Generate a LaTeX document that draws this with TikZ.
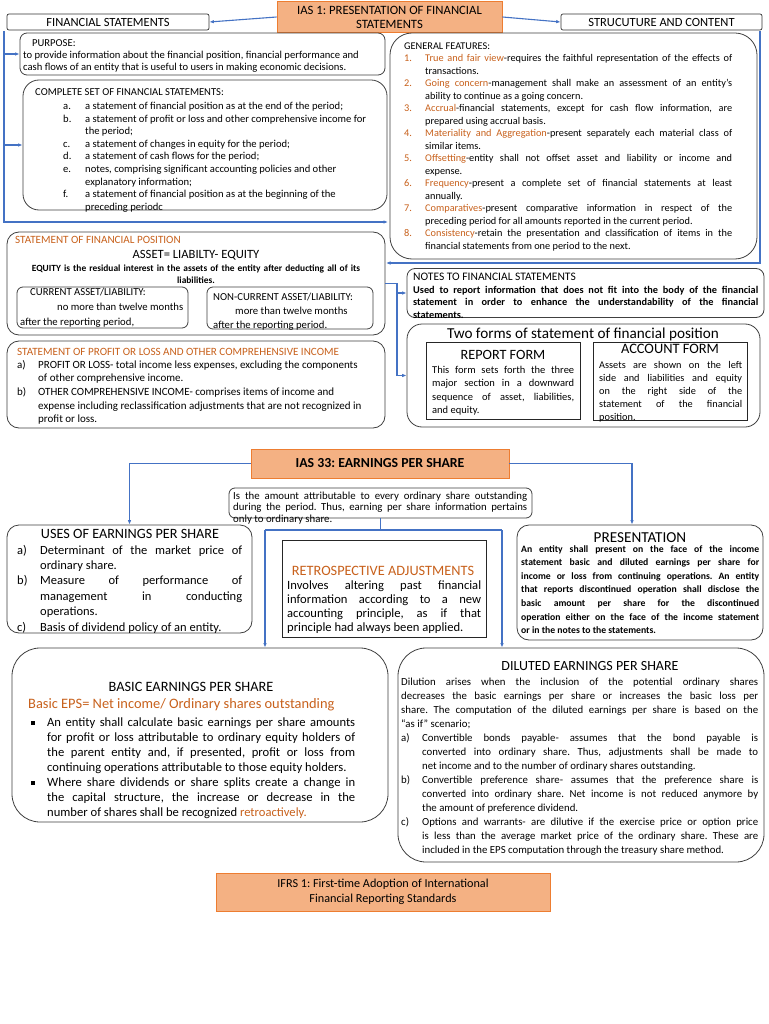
\documentclass[tikz,border=0pt]{standalone}
\usepackage{fontspec}
\setmainfont{Carlito}
\usepackage{xcolor}
\usetikzlibrary{arrows.meta}
\definecolor{hdrfill}{HTML}{F4B183}
\definecolor{hdrline}{HTML}{ED7D31}
\definecolor{ortxt}{HTML}{C8611C}
\definecolor{linkblue}{HTML}{4472C4}
\newcommand\fs[2]{\fontsize{#1}{#2}\selectfont}
\newcommand\ort[1]{\textcolor{ortxt}{#1}}
\newlength\lblw
\newcommand\hitem[2]{\noindent\hangindent=\lblw\hangafter=1\relax\makebox[\lblw][l]{#1}#2\endgraf}
\newcommand\gitem[3]{\hitem{\ort{#1}}{\ort{#2}#3}}
\newcommand\sqb{\rule[2pt]{4pt}{4pt}}
\hyphenpenalty=10000 \exhyphenpenalty=10000 \tolerance=10000
\AtBeginDocument{\frenchspacing}

\begin{document}
\begin{tikzpicture}[x=1pt,y=-1pt,>=Latex,
  rbox/.style={draw=black!75,line width=.8pt,rounded corners=#1,inner sep=0pt},
  rbox/.default=10pt,
  sqbox/.style={draw=black!85,line width=.8pt,inner sep=0pt},
  tagbox/.style={draw=black!80,line width=.7pt,rounded corners=2pt,inner sep=0pt,
                 minimum width=202pt,minimum height=16pt,font=\fs{12.5}{13}},
  hdr/.style={draw=hdrline,fill=hdrfill,line width=.8pt,align=center,inner sep=0pt},
  txt/.style={inner sep=0pt,anchor=base west,align=justify},
  lbl/.style={inner sep=0pt,anchor=base},
  flow/.style={draw=linkblue,line width=1.1pt},
  flowarr/.style={flow,-{Latex[length=4.5pt,width=3.5pt]}}
]
\fill[white] (0,0) rectangle (768,1024);
\useasboundingbox (0,0) rectangle (768,1024);

\node[hdr,minimum width=225pt,minimum height=31pt,font=\fs{12.7}{14}] (ias1) at (389.5,17)
  {IAS 1: PRESENTATION OF FINANCIAL\\STATEMENTS};
\node[tagbox] (fin) at (108,22) {FINANCIAL STATEMENTS};
\node[tagbox,minimum width=201pt] (struct) at (661.5,22) {STRUCUTURE AND CONTENT};
\draw[flowarr] (ias1.west) -- (fin.east);
\draw[flowarr] (ias1.east) -- (struct.west);

\node[rbox=7pt,minimum width=365pt,minimum height=42pt] (purp) at (202.5,54) {};
\node[txt,text width=362pt,font=\fs{10.6}{12}] (purpT) at (23,46.5)
  {\raggedright\hspace*{9pt}PURPOSE:\newline to provide information about the financial position, financial performance and\newline cash flows of an entity that is useful to users in making economic decisions.};

\node[rbox=16pt,minimum width=364pt,minimum height=130pt] (cset) at (205,145) {};
\node[txt,text width=345pt,font=\fs{10.6}{12.6}] (csetT) at (35,95.5)
  {\raggedright COMPLETE SET OF FINANCIAL STATEMENTS:\endgraf\vspace{1.5pt}
   \leftskip=28pt \setlength\lblw{22pt}%
   \hitem{a.}{a statement of financial position as at the end of the period;}
   \hitem{b.}{a statement of profit or loss and other comprehensive income for\newline the period;}
   \hitem{c.}{a statement of changes in equity for the period;}
   \hitem{d.}{a statement of cash flows for the period;}
   \hitem{e.}{notes, comprising significant accounting policies and other\newline explanatory information;}
   \hitem{f.}{a statement of financial position as at the beginning of the\newline preceding periodc}};

\node[rbox=22pt,minimum width=367pt,minimum height=226pt] (gen) at (573.5,146) {};
\node[txt,text width=328pt,font=\fs{10.3}{12.5}] (genT) at (404,49.5)
  {GENERAL FEATURES:\endgraf \setlength\lblw{21pt}%
   \gitem{1.}{True and fair view}{-requires the faithful representation of the effects of\linebreak transactions.}
   \gitem{2.}{Going concern}{-management shall make an assessment of an entity’s\linebreak ability to continue as a going concern.}
   \gitem{3.}{Accrual}{-financial statements, except for cash flow information, are\linebreak prepared using accrual basis.}
   \gitem{4.}{Materiality and Aggregation}{-present separately each material class of\linebreak similar items.}
   \gitem{5.}{Offsetting}{-entity shall not offset asset and liability or income and\linebreak expense.}
   \gitem{6.}{Frequency}{-present a complete set of financial statements at least\linebreak annually.}
   \gitem{7.}{Comparatives}{-present comparative information in respect of the\linebreak preceding period for all amounts reported in the current period.}
   \gitem{8.}{Consistency}{-retain the presentation and classification of items in the\linebreak financial statements from one period to the next.}};

\coordinate (lt) at (4,31);
\coordinate (gin) at (388,222);
\draw[flowarr] (lt) |- (gin);
\draw[flowarr] (lt |- purp.west) -- (purp.west);
\draw[flowarr] (lt |- cset.west) -- (cset.west);

\node[rbox=12pt,minimum width=378pt,minimum height=103pt] (sfp) at (196,283.5) {};
\node[lbl,anchor=base west,font=\fs{11.1}{12},text=ortxt] (sfpT) at (15,243.5) {STATEMENT OF FINANCIAL POSITION};
\node[lbl,font=\fs{12.6}{13}] (sfpEq) at (196,258.5) {ASSET= LIABILTY- EQUITY};
\node[lbl,text width=370pt,align=center,font=\bfseries\fs{9.4}{12}] (sfpDef) at (196,271.5)
  {EQUITY is the residual interest in the assets of the entity after deducting all of its\\liabilities.};
\node[rbox=6pt,minimum width=171pt,minimum height=41pt] (cur) at (102.5,307.5) {};
\node[txt,text width=168pt,font=\fs{10.7}{15}] (curT) at (20,295)
  {\raggedright\hspace*{10pt}CURRENT ASSET/LIABILITY:\newline\hspace*{37pt}no more than twelve months\newline after the reporting period,};
\node[rbox=6pt,minimum width=166pt,minimum height=42pt] (ncur) at (290,308) {};
\node[txt,text width=160pt,font=\fs{10.7}{14.3}] (ncurT) at (213,300)
  {\raggedright NON-CURRENT ASSET/LIABILITY:\newline\hspace*{22pt}more than twelve months\newline after the reporting period.};

\node[rbox=8pt,minimum width=357pt,minimum height=49pt] (notes) at (585.5,293) {};
\node[lbl,anchor=base west,font=\fs{11.5}{12}] (notesT) at (413,280) {NOTES TO FINANCIAL STATEMENTS};
\node[txt,text width=345pt,font=\bfseries\fs{10.3}{12.3}] (notesB) at (413,293.5)
  {Used to report information that does not fit into the body of the financial\linebreak statement in order to enhance the understandability of the financial\linebreak statements.};

\node[rbox=15pt,minimum width=353pt,minimum height=103pt] (forms) at (583.5,375.5) {};
\node[lbl,font=\fs{15.2}{16}] (formsT) at (583,338.5) {Two forms of statement of financial position};
\node[sqbox,minimum width=154pt,minimum height=77pt] (rep) at (503,380.5) {};
\node[lbl,font=\fs{14.2}{15}] (repT) at (503,359.5) {REPORT FORM};
\node[txt,text width=142pt,font=\fs{10.5}{13.5}] (repB) at (432,373)
  {This form sets forth the three\linebreak major section in a downward\linebreak sequence of asset, liabilities,\linebreak and equity.};
\node[sqbox,minimum width=154pt,minimum height=78pt] (acc) at (670,381) {};
\node[lbl,font=\fs{14.4}{15}] (accT) at (670,353.5) {ACCOUNT FORM};
\node[txt,text width=143pt,font=\fs{10.3}{13.2}] (accB) at (599,368)
  {Assets are shown on the left\linebreak side and liabilities and equity\linebreak on the right side of the\linebreak statement of the financial\linebreak position.};

\coordinate (rt) at (760,31);
\coordinate (sin) at (386,263);
\coordinate (sj) at (397,0);
\draw[flowarr] (rt) |- (sin);
\draw[flow] (sfp.east) -| (sj |- forms.west);
\draw[flowarr] (sj |- notes.west) -- (notes.west);
\draw[flowarr] (sj |- forms.west) -- (forms.west);

\node[rbox=12pt,minimum width=378pt,minimum height=87pt] (sopl) at (196,384.5) {};
\node[lbl,anchor=base west,font=\fs{11.1}{12},text=ortxt] (soplT) at (17,355.5)
  {STATEMENT OF PROFIT OR LOSS AND OTHER COMPREHENSIVE INCOME};
\node[txt,text width=362pt,font=\fs{11}{13.7}] (soplB) at (17,368)
  {\raggedright\setlength\lblw{21pt}%
   \hitem{a)}{PROFIT OR LOSS- total income less expenses, excluding the components\newline of other comprehensive income.}
   \hitem{b)}{OTHER COMPREHENSIVE INCOME- comprises items of income and\newline expense including reclassification adjustments that are not recognized in\newline profit or loss.}};

\node[hdr,minimum width=258pt,minimum height=29pt,font=\bfseries\fs{13.8}{15}] (ias33) at (380,463.5) {IAS 33: EARNINGS PER SHARE};
\node[rbox=6pt,minimum width=303pt,minimum height=30pt] (eps) at (380.5,503) {};
\node[txt,text width=294pt,font=\fs{10.8}{11.5}] (epsT) at (233,499)
  {Is the amount attributable to every ordinary share outstanding\linebreak during the period. Thus, earning per share information pertains\linebreak only to ordinary share.};

\node[rbox=12pt,minimum width=245pt,minimum height=108pt] (uses) at (129.5,579) {};
\node[lbl,font=\fs{14.2}{15}] (usesT) at (130,538.5) {USES OF EARNINGS PER SHARE};
\node[txt,text width=225pt,font=\fs{12.5}{15.4}] (usesB) at (17,554)
  {\setlength\lblw{23pt}%
   \hitem{a)}{Determinant of the market price of\linebreak ordinary share.}
   \hitem{b)}{Measure of performance of\linebreak management in conducting\linebreak operations.}
   \hitem{c)}{Basis of dividend policy of an entity.}};

\node[sqbox,minimum width=204pt,minimum height=97pt] (retro) at (384,588.5) {};
\node[lbl,font=\fs{14.3}{15},text=ortxt] (retroT) at (383,575) {RETROSPECTIVE ADJUSTMENTS};
\node[txt,text width=194pt,font=\fs{12.6}{14}] (retroB) at (287,589)
  {Involves altering past financial\linebreak information according to a new\linebreak accounting principle, as if that\linebreak principle had always been applied.};

\node[rbox=12pt,minimum width=246pt,minimum height=115pt] (pres) at (640,582.5) {};
\node[lbl,font=\fs{15.2}{16}] (presT) at (640,542) {PRESENTATION};
\node[txt,text width=238pt,font=\bfseries\fs{9.7}{13.6}] (presB) at (521,552)
  {An entity shall present on the face of the income\linebreak statement basic and diluted earnings per share for\linebreak income or loss from continuing operations. An entity\linebreak that reports discontinued operation shall disclose the\linebreak basic amount per share for the discontinued\linebreak operation either on the face of the income statement\linebreak or in the notes to the statements.};

\draw[flowarr] (ias33.west) -| (uses.north);
\draw[flowarr] (ias33.east) -| ([xshift=-8pt]pres.north);

\node[rbox=28pt,minimum width=376pt,minimum height=174pt] (basic) at (200,735) {};
\node[lbl,font=\fs{14.3}{15}] (basicT) at (191,691.5) {BASIC EARNINGS PER SHARE};
\node[lbl,anchor=base west,font=\fs{14.4}{15},text=ortxt] (basicF) at (28,708)
  {Basic EPS= Net income/ Ordinary shares outstanding};
\node[txt,text width=324pt,font=\fs{12.6}{15}] (basicB) at (31,726.5)
  {\setlength\lblw{16pt}%
   \hitem{\sqb}{An entity shall calculate basic earnings per share amounts\linebreak for profit or loss attributable to ordinary equity holders of\linebreak the parent entity and, if presented, profit or loss from\linebreak continuing operations attributable to those equity holders.}
   \hitem{\sqb}{Where share dividends or share splits create a change in\linebreak the capital structure, the increase or decrease in the\linebreak number of shares shall be recognized \ort{retroactively.}}};

\node[rbox=28pt,minimum width=366pt,minimum height=214pt] (dil) at (581,755) {};
\node[lbl,font=\fs{14}{15}] (dilT) at (590,670.5) {DILUTED EARNINGS PER SHARE};
\node[txt,text width=357pt,font=\fs{10.8}{14}] (dilB) at (401,685)
  {Dilution arises when the inclusion of the potential ordinary shares\linebreak decreases the basic earnings per share or increases the basic loss per\linebreak share. The computation of the diluted earnings per share is based on the\linebreak “as if” scenario;\endgraf
   \setlength\lblw{21pt}%
   \hitem{a)}{Convertible bonds payable- assumes that the bond payable is\linebreak converted into ordinary share. Thus, adjustments shall be made to\linebreak net income and to the number of ordinary shares outstanding.}
   \hitem{b)}{Convertible preference share- assumes that the preference share is\linebreak converted into ordinary share. Net income is not reduced anymore by\linebreak the amount of preference dividend.}
   \hitem{c)}{Options and warrants- are dilutive if the exercise price or option price\linebreak is less than the average market price of the ordinary share. These are\linebreak included in the EPS computation through the treasury share method.}};

\coordinate (bl) at (265,530);
\coordinate (br) at (502,530);
\draw[flow] (eps.south) -- (eps.south |- bl);
\draw[flow] (bl) -- (br);
\draw[flowarr] (bl) -- (bl |- basic.north);
\draw[flowarr] (br) -- (br |- dil.north);

\node[hdr,minimum width=334pt,minimum height=38pt,font=\fs{12.2}{15}] (ifrs) at (383,892)
  {IFRS 1: First-time Adoption of International\\Financial Reporting Standards};
\end{tikzpicture}
\end{document}
